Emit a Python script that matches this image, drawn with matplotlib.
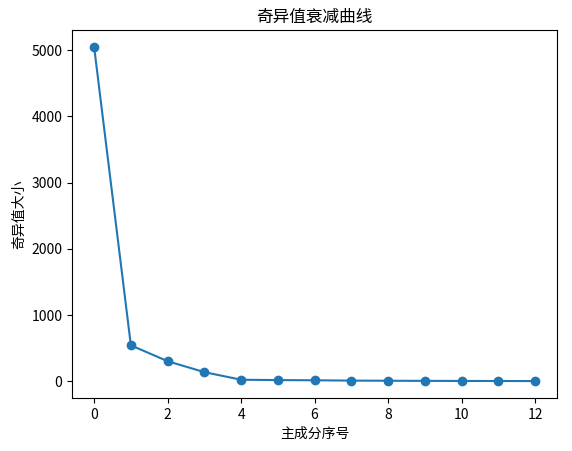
import matplotlib
matplotlib.use("Agg")
import matplotlib.pyplot as plt

plt.rcParams['font.family'] = ['Noto Sans CJK SC', 'DejaVu Sans']
plt.rcParams['axes.unicode_minus'] = False

components = list(range(13))
singular_values = [5050, 545, 305, 140, 25, 20, 17, 12, 10, 8, 7, 6, 5]

fig, ax = plt.subplots(figsize=(5.72, 4.51), dpi=100)
ax.plot(components, singular_values, marker='o', color='#1f77b4')
ax.set_title('奇异值衰减曲线')
ax.set_xlabel('主成分序号')
ax.set_ylabel('奇异值大小')
fig.subplots_adjust(left=0.126, right=0.974, top=0.933, bottom=0.118)
fig.savefig('out.png', dpi=100)
